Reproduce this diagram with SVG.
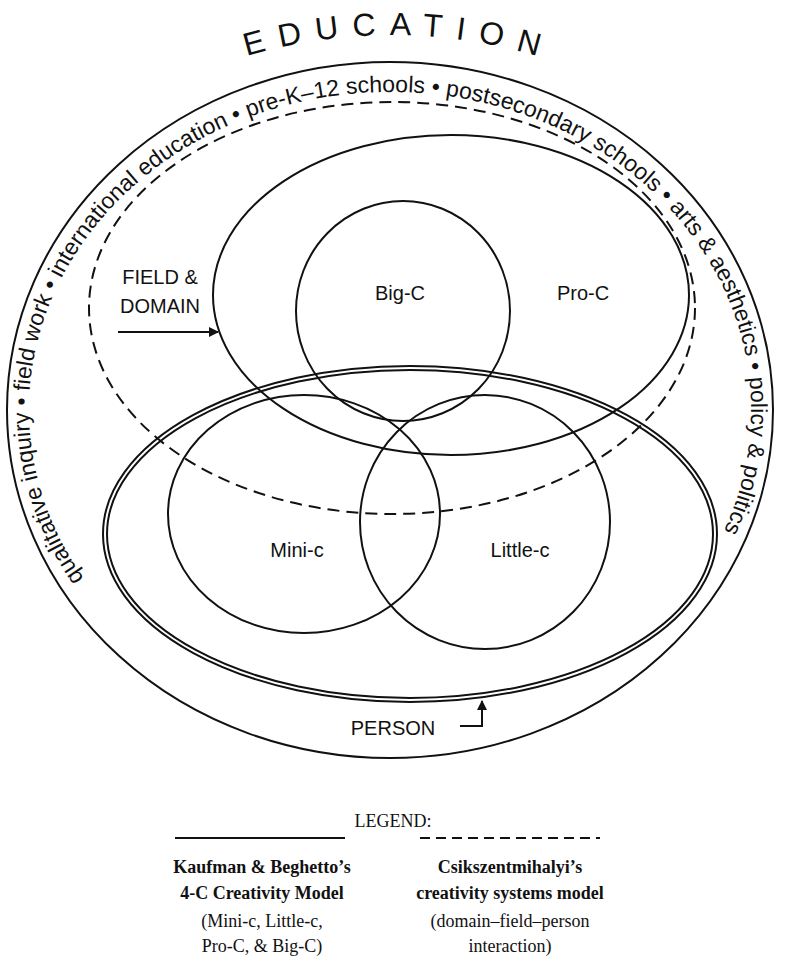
<svg xmlns="http://www.w3.org/2000/svg" width="785" height="959" viewBox="0 0 785 959">
<style>
.ln{fill:none;stroke:#111;stroke-width:2}
.lb{font-family:"Liberation Sans",Arial,sans-serif;font-size:20px;fill:#111;text-anchor:middle}
.ring{font-family:"Liberation Sans",Arial,sans-serif;font-size:23px;fill:#111}
.lg{font-family:"Liberation Serif","Times New Roman",serif;font-size:18px;fill:#111;text-anchor:middle}
</style>
<defs>
<marker id="ah" markerWidth="10" markerHeight="10" refX="9" refY="5" orient="auto" markerUnits="userSpaceOnUse"><path d="M0,0 L10,5 L0,10 Z" fill="#111"/></marker>
<path id="ringPath" d="M 83.9 578.5 A 361 318 0 1 1 696.1 578.5"/>
<path id="eduPath" d="M 180 80.8 A 514 514 0 0 1 604 80.8"/>
</defs>
<rect width="785" height="959" fill="#fff"/>
<g id="education">
<ellipse class="ln" cx="390" cy="410" rx="383" ry="348" stroke-width="1.6"/>
<text font-family="'Liberation Sans',Arial,sans-serif" font-size="32" fill="#111" text-anchor="middle"><textPath href="#eduPath" startOffset="50%" textLength="295" lengthAdjust="spacing">EDUCATION</textPath></text>
<text class="ring"><textPath href="#ringPath">qualitative inquiry • field work • international education • pre-K–12 schools • postsecondary schools • arts &amp; aesthetics • policy &amp; politics</textPath></text>
</g>
<g id="field-domain">
<ellipse class="ln" cx="392" cy="308" rx="303" ry="206" stroke-dasharray="12 7"/>
<text class="lb" x="160" y="284">FIELD &amp;</text>
<text class="lb" x="160" y="313">DOMAIN</text>
</g>
<g id="pro-c">
<ellipse class="ln" cx="451" cy="295" rx="238" ry="160"/>
<text class="lb" x="583" y="300">Pro-C</text>
</g>
<g id="big-c">
<ellipse class="ln" cx="403" cy="311" rx="107" ry="110"/>
<text class="lb" x="400" y="300">Big-C</text>
</g>
<g id="person">
<ellipse class="ln" cx="410" cy="534" rx="307" ry="168" stroke-width="1.5"/>
<ellipse class="ln" cx="410" cy="534" rx="303" ry="164" stroke-width="1.5"/>
<text class="lb" x="393" y="735">PERSON</text>
</g>
<g id="mini-c">
<ellipse class="ln" cx="304" cy="514" rx="136" ry="119"/>
<text class="lb" x="297" y="557">Mini-c</text>
</g>
<g id="little-c">
<ellipse class="ln" cx="485" cy="522" rx="125" ry="127"/>
<text class="lb" x="520" y="557">Little-c</text>
</g>
<g id="connectors">
<line x1="118" y1="332" x2="218" y2="332" stroke="#111" stroke-width="2" marker-end="url(#ah)"/>
<polyline points="460,726 482,726 482,701" fill="none" stroke="#111" stroke-width="2" marker-end="url(#ah)"/>
</g>
<g id="legend">
<text class="lg" x="393" y="827" font-size="20">LEGEND:</text>
<line x1="175" y1="838" x2="345" y2="838" stroke="#111" stroke-width="2"/>
<line x1="420" y1="838" x2="600" y2="838" stroke="#111" stroke-width="2" stroke-dasharray="10 6"/>
<text class="lg" x="262" y="873" font-weight="bold">Kaufman &amp; Beghetto’s</text>
<text class="lg" x="262" y="899" font-weight="bold">4-C Creativity Model</text>
<text class="lg" x="262" y="927">(Mini-c, Little-c,</text>
<text class="lg" x="262" y="952">Pro-C, &amp; Big-C)</text>
<text class="lg" x="510" y="873" font-weight="bold">Csikszentmihalyi’s</text>
<text class="lg" x="510" y="899" font-weight="bold">creativity systems model</text>
<text class="lg" x="510" y="927">(domain–field–person</text>
<text class="lg" x="510" y="952">interaction)</text>
</g>
</svg>
